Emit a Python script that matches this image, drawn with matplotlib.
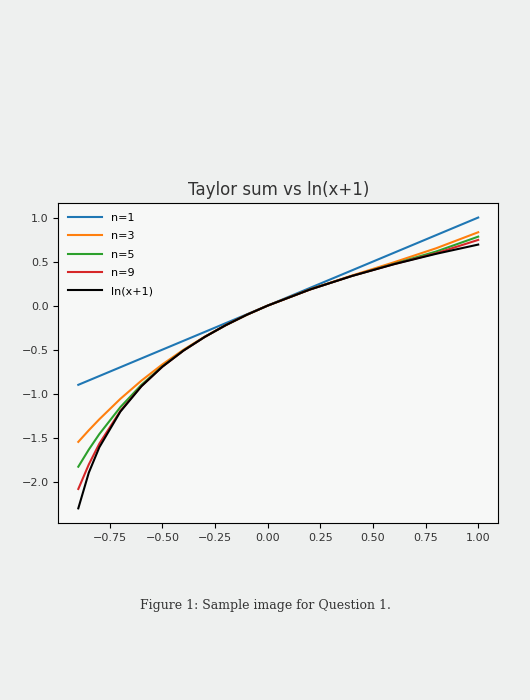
import matplotlib.pyplot as plt

x = [-0.9, -0.85, -0.8, -0.7, -0.6, -0.5, -0.4, -0.3, -0.2, -0.1, 0.0, 0.2, 0.4, 0.6, 0.8, 1.0]
n1 = [-0.9, -0.85, -0.8, -0.7, -0.6, -0.5, -0.4, -0.3, -0.2, -0.1, 0.0, 0.2, 0.4, 0.6, 0.8, 1.0]
n3 = [-1.548, -1.416, -1.291, -1.059, -0.852, -0.667, -0.501, -0.354, -0.223, -0.105, 0.0, 0.183, 0.341, 0.492, 0.651, 0.833]
n5 = [-1.830, -1.635, -1.459, -1.153, -0.900, -0.689, -0.509, -0.357, -0.223, -0.105, 0.0, 0.183, 0.337, 0.475, 0.614, 0.783]
n9 = [-2.083, -1.804, -1.568, -1.196, -0.915, -0.693, -0.511, -0.357, -0.223, -0.105, 0.0, 0.182, 0.337, 0.471, 0.594, 0.746]
ln1 = [-2.303, -1.897, -1.609, -1.204, -0.916, -0.693, -0.511, -0.357, -0.223, -0.105, 0.0, 0.182, 0.336, 0.470, 0.588, 0.693]

fig = plt.figure(figsize=(5.3, 7), dpi=100, facecolor='#eef0ef')
ax = fig.add_axes([0.11, 0.253, 0.83, 0.457])
ax.set_facecolor('#f7f8f7')
ax.plot(x, n1, color='#1f77b4', label='n=1')
ax.plot(x, n3, color='#ff7f0e', label='n=3')
ax.plot(x, n5, color='#2ca02c', label='n=5')
ax.plot(x, n9, color='#d62728', label='n=9')
ax.plot(x, ln1, color='black', label='ln(x+1)')
ax.set_title('Taylor sum vs ln(x+1)', color='#333333')
ax.set_xticks([-0.75, -0.5, -0.25, 0.0, 0.25, 0.5, 0.75, 1.0])
ax.set_yticks([-2.0, -1.5, -1.0, -0.5, 0.0, 0.5, 1.0])
ax.tick_params(labelsize=8, labelcolor='#333333')
ax.legend(loc='upper left', fontsize=8, frameon=False, handlelength=3, labelspacing=0.75)
fig.text(0.5, 0.13, 'Figure 1: Sample image for Question 1.', ha='center',
         family='DejaVu Serif', fontsize=9, color='#333333')
fig.savefig('out.png', facecolor=fig.get_facecolor())
